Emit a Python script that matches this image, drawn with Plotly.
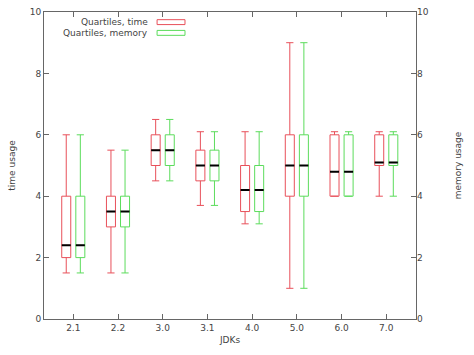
import plotly.graph_objects as go

jdks = ["2.1", "2.2", "3.0", "3.1", "4.0", "5.0", "6.0", "7.0"]

time_low = [1.5, 1.5, 4.5, 3.7, 3.1, 1.0, 4.0, 4.0]
time_q1 = [2.0, 3.0, 5.0, 4.5, 3.5, 4.0, 4.0, 5.0]
time_med = [2.4, 3.5, 5.5, 5.0, 4.2, 5.0, 4.8, 5.1]
time_q3 = [4.0, 4.0, 6.0, 5.5, 5.0, 6.0, 6.0, 6.0]
time_high = [6.0, 5.5, 6.5, 6.1, 6.1, 9.0, 6.1, 6.1]

mem_low = [1.5, 1.5, 4.5, 3.7, 3.1, 1.0, 4.0, 4.0]
mem_q1 = [2.0, 3.0, 5.0, 4.5, 3.5, 4.0, 4.0, 5.0]
mem_med = [2.4, 3.5, 5.5, 5.0, 4.2, 5.0, 4.8, 5.1]
mem_q3 = [4.0, 4.0, 6.0, 5.5, 5.0, 6.0, 6.0, 6.0]
mem_high = [6.0, 5.5, 6.5, 6.1, 6.1, 9.0, 6.1, 6.1]

series_names = ["Quartiles, time", "Quartiles, memory"]

RED = "#e8505a"
GREEN = "#5cdc5c"
TXT = "#444444"
AX = "#666666"
FONT = "DejaVu Sans"
FS = 9

fig = go.Figure()


def add_series(name, color, group, low, q1, med, q3, high):
    fig.add_trace(go.Box(
        name=name, x=jdks, q1=q1, median=med, q3=q3,
        lowerfence=low, upperfence=high,
        offsetgroup=group, line=dict(color=color, width=1),
        fillcolor="rgba(0,0,0,0)", whiskerwidth=0.8,
        boxpoints=False, showlegend=False,
    ))
    fig.add_trace(go.Box(
        name=name + " median", x=jdks, q1=med, median=med, q3=med,
        lowerfence=med, upperfence=med,
        offsetgroup=group, line=dict(color="black", width=2),
        fillcolor="rgba(0,0,0,0)", whiskerwidth=0,
        boxpoints=False, showlegend=False,
    ))


add_series(series_names[0], RED, "a", time_low, time_q1, time_med, time_q3, time_high)
add_series(series_names[1], GREEN, "b", mem_low, mem_q1, mem_med, mem_q3, mem_high)

# invisible trace to anchor the right axis
fig.add_trace(go.Scatter(x=[jdks[0]], y=[None], yaxis="y2", showlegend=False,
                         hoverinfo="skip", mode="markers"))

fig.update_layout(
    width=474, height=355,
    margin=dict(l=44, r=58, t=12, b=36),
    paper_bgcolor="white", plot_bgcolor="white",
    font=dict(family=FONT, size=FS, color=TXT),
    boxmode="group", boxgap=0.37, boxgroupgap=0.36,
    showlegend=False,
    xaxis=dict(
        type="category", categoryorder="array", categoryarray=jdks,
        range=[-0.655, 7.665], showgrid=False, zeroline=False,
        showline=True, linecolor=AX, linewidth=1, mirror="ticks",
        ticks="inside", ticklen=5, tickcolor=AX, automargin=False,
        title=dict(text="JDKs", standoff=4, font=dict(size=FS, color=TXT)),
    ),
    yaxis=dict(
        range=[0, 10], dtick=2, showgrid=False, zeroline=False,
        showline=True, linecolor=AX, linewidth=1, mirror="ticks",
        ticks="inside", ticklen=5, tickcolor=AX, automargin=False,
        title=dict(text="time usage", standoff=12, font=dict(size=FS, color=TXT)),
    ),
    yaxis2=dict(
        range=[0, 10], dtick=2, overlaying="y", side="right",
        showgrid=False, zeroline=False, showline=False,
        ticks="inside", ticklen=5, tickcolor=AX, automargin=False,
        title=dict(text="memory usage", standoff=26, font=dict(size=FS, color=TXT)),
    ),
)

# gnuplot-style key: text right-aligned, sample box to its right
legend_colors = [RED, GREEN]
legend_rows = [0.967, 0.932]
for name, color, yy in zip(series_names, legend_colors, legend_rows):
    fig.add_annotation(xref="paper", yref="paper", x=0.285, y=yy, text=name,
                       showarrow=False, xanchor="right", yanchor="middle",
                       font=dict(size=FS, color=TXT))
    fig.add_shape(type="rect", xref="paper", yref="paper",
                  x0=0.304, x1=0.379, y0=yy - 0.008, y1=yy + 0.008,
                  line=dict(color=color, width=1), fillcolor="rgba(0,0,0,0)")

# remove the browser's default page margin so the figure sits at the window origin
fig.write_html("out.html", config={"displayModeBar": False},
               post_script="document.body.style.margin='0';")
